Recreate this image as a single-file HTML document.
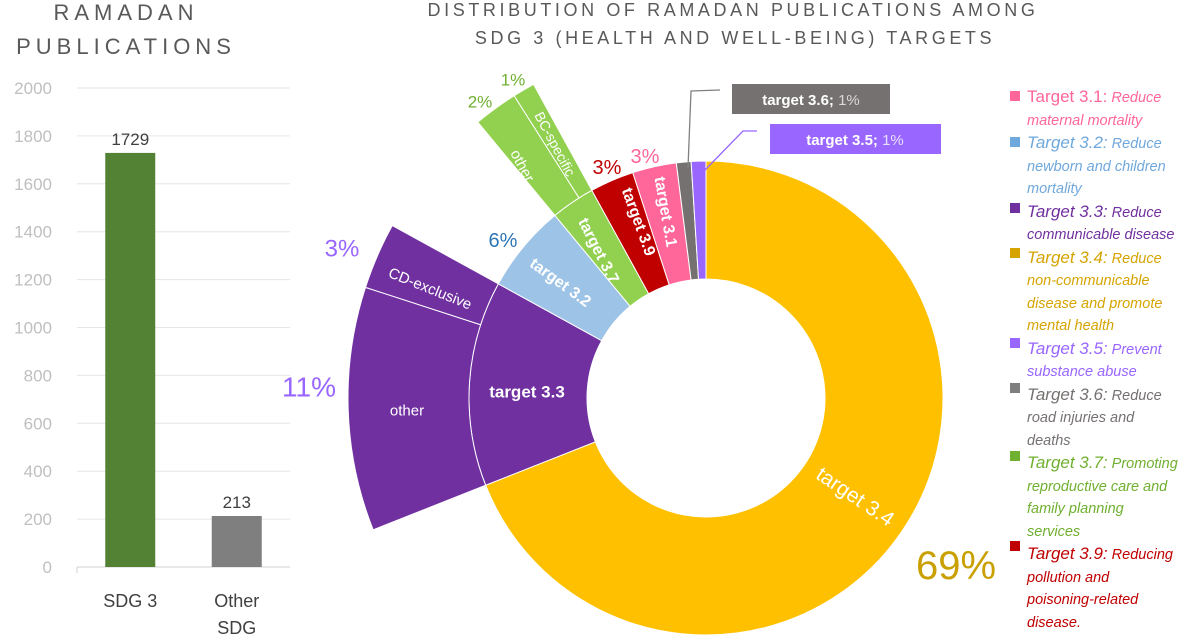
<!DOCTYPE html>
<html><head><meta charset="utf-8">
<style>
html,body{margin:0;padding:0;background:#fff;}
body{width:1200px;height:637px;overflow:hidden;position:relative;font-family:"Liberation Sans",sans-serif;}
svg{position:absolute;left:0;top:0;}
.lg{position:absolute;left:1027px;top:86px;font-style:italic;font-size:14.5px;line-height:22.5px;}
.lg div{white-space:nowrap;}
.lg b{font-weight:normal;font-size:17px;}
.sq{position:absolute;width:10px;height:10px;left:1010px;}
</style></head>
<body>
<svg width="1200" height="637">
<g id="titles" font-family="Liberation Sans, sans-serif" fill="#595959" text-anchor="middle">
<text x="126" y="20" font-size="22" letter-spacing="5">RAMADAN</text>
<text x="126" y="54" font-size="22" letter-spacing="5">PUBLICATIONS</text>
<text x="733" y="16" font-size="18" letter-spacing="3.6">DISTRIBUTION OF RAMADAN PUBLICATIONS AMONG</text>
<text x="735" y="44" font-size="18" letter-spacing="3.6">SDG 3 (HEALTH AND WELL-BEING) TARGETS</text>
</g>
<g id="bar"></g>
<g id="donut"></g>
<g id="dlabels" font-family="Liberation Sans, sans-serif"></g>
</svg>

<div class="sq" style="top:91px;background:#ff6699"></div>
<div class="sq" style="top:137px;background:#6fa8dc"></div>
<div class="sq" style="top:203px;background:#7030a0"></div>
<div class="sq" style="top:248px;background:#d6a400"></div>
<div class="sq" style="top:338px;background:#9966ff"></div>
<div class="sq" style="top:383px;background:#7f7f7f"></div>
<div class="sq" style="top:451px;background:#70b030"></div>
<div class="sq" style="top:541px;background:#c00000"></div>
<div class="lg">
<div style="color:#ff6699"><div><b style="font-style:normal">Target 3.1:</b> Reduce</div><div>maternal mortality</div></div>
<div style="color:#6fa8dc"><div><b>Target 3.2:</b> Reduce</div><div>newborn and children</div><div>mortality</div></div>
<div style="color:#7030a0"><div><b>Target 3.3:</b> Reduce</div><div>communicable disease</div></div>
<div style="color:#d6a400"><div><b>Target 3.4:</b> Reduce</div><div>non-communicable</div><div>disease and promote</div><div>mental health</div></div>
<div style="color:#9966ff"><div><b>Target 3.5:</b> Prevent</div><div>substance abuse</div></div>
<div style="color:#767171"><div><b>Target 3.6:</b> Reduce</div><div>road injuries and</div><div>deaths</div></div>
<div style="color:#70b030"><div><b>Target 3.7:</b> Promoting</div><div>reproductive care and</div><div>family planning</div><div>services</div></div>
<div style="color:#c00000"><div><b>Target 3.9:</b> Reducing</div><div>pollution and</div><div>poisoning-related</div><div>disease.</div></div>
</div>

<script>
const NS="http://www.w3.org/2000/svg";
// Bar chart data
const barCategories=["SDG 3","Other SDG"];
const barValues=[1729,213];
const barTicks=[0,200,400,600,800,1000,1200,1400,1600,1800,2000];
// Donut data (percent of total, clockwise from top)
const ringTargets=["3.4","3.3","3.2","3.7","3.9","3.1","3.6","3.5"];
const ringValues=[69,14,6,3,3,3,1,1];
const outerParts=["3.3 other","3.3 CD-exclusive","3.7 other","3.7 BC-specific"];
const outerValues=[11,3,2,1];

function mk(tag,attrs,parent){const e=document.createElementNS(NS,tag);for(const k in attrs)e.setAttribute(k,attrs[k]);parent.appendChild(e);return e;}

// ---- bar chart
const bar=document.getElementById('bar');
const y=v=>567-v*479/2000;
const x0=77,x1=290,band=(x1-x0)/barCategories.length;
barTicks.forEach(t=>{
  const l=mk('line',{x1:x0,x2:x1,y1:y(t),y2:y(t),stroke:t===0?'#d0d0d0':'#e6e6e6','stroke-width':1},bar);
  
  
  const tx=mk('text',{x:52,y:y(t)+6,'text-anchor':'end','font-size':17,fill:'#bfbfbf'},bar);
  tx.textContent=t;
  
  
});
const barColors=['#548235','#7f7f7f'];
barCategories.forEach((c,i)=>{
  const cx=x0+band*(i+0.5),w=50;
  const r=mk('rect',{x:cx-w/2,y:y(barValues[i]),width:w,height:y(0)-y(barValues[i]),fill:barColors[i]},bar);
  
  
  const v=mk('text',{x:cx,y:y(barValues[i])-8,'text-anchor':'middle','font-size':17,fill:'#404040'},bar);
  v.textContent=barValues[i];
  
  
  const parts=c==='SDG 3'?['SDG 3']:['Other','SDG'];
  parts.forEach((p,j)=>{
    const t=mk('text',{x:cx,y:607+j*27,'text-anchor':'middle','font-size':18,fill:'#404040'},bar);
    t.textContent=p;
    
    
  });
});
const ax=mk('line',{x1:x0,x2:x0,y1:567,y2:573,stroke:'#d0d0d0'},bar);



// ---- donut
const CX=706,CY=398,R0=119,R1=237,R2=358;
const don=document.getElementById('donut');
function pt(a,r){const t=a*Math.PI/180;return [CX+r*Math.sin(t),CY-r*Math.cos(t)];}
function arc(a0,a1,ri,ro){
  const big=(a1-a0)>180?1:0;
  const p0=pt(a0,ro),p1=pt(a1,ro),p2=pt(a1,ri),p3=pt(a0,ri);
  return `M${p0}A${ro},${ro} 0 ${big} 1 ${p1}L${p2}A${ri},${ri} 0 ${big} 0 ${p3}Z`;
}
const ringColors={"3.4":"#ffc000","3.3":"#7030a0","3.2":"#9dc3e6","3.7":"#92d050","3.9":"#c00000","3.1":"#ff6699","3.6":"#767171","3.5":"#9966ff"};
const tot=ringValues.reduce((a,b)=>a+b,0);
let acc=0;const ang={};
ringTargets.forEach((t,i)=>{
  const a0=acc/tot*360;acc+=ringValues[i];const a1=acc/tot*360;
  ang[t]=[a0,a1];
  const p=mk('path',{d:arc(a0,a1,R0,R1),fill:ringColors[t],stroke:'#fff','stroke-width':1},don);
  
  
});
// outer ring parts
let o33=ang["3.3"][0],o37=ang["3.7"][0];
outerParts.forEach((n,i)=>{
  const is33=n.startsWith('3.3');
  const a0=is33?o33:o37;const a1=a0+outerValues[i]/tot*360;
  if(is33)o33=a1;else o37=a1;
  const p=mk('path',{d:arc(a0,a1,R1,R2),fill:ringColors[is33?'3.3':'3.7'],stroke:'#fff','stroke-width':1},don);
  
  
});

// labels
const L=document.getElementById('dlabels');
function lab(txt,x,yy,rot,size,fill,weight,name){
  const t=mk('text',{x:x,y:yy,'font-size':size,fill:fill,'font-weight':weight||'normal','text-anchor':'middle','dominant-baseline':'central',transform:`rotate(${rot} ${x} ${yy})`},L);
  t.textContent=txt;
  
  
}
lab('target 3.4',855,497,34,21,'#fff','normal','label-target-3-4');
lab('target 3.3',527,392,0,17,'#fff','bold','label-target-3-3');
lab('other',407,411,0,15,'#fff','normal','label-3-3-other');
lab('CD-exclusive',430,289,22,15,'#fff','normal','label-cd-exclusive');
lab('target 3.2',560,283,36,16,'#fff','bold','label-target-3-2');
lab('target 3.7',598,251,63,16,'#fff','bold','label-target-3-7');
lab('target 3.9',638,222,70,16,'#fff','bold','label-target-3-9');
lab('target 3.1',665,212,80,16,'#fff','bold','label-target-3-1');
lab('other',522,166,62,15,'#fff','normal','label-3-7-other');
lab('BC-specific',555,144,62,14,'#fff','normal','label-bc-specific');
lab('3%',342,249,0,24,'#9966ff','normal','pct-cd-exclusive');
lab('11%',309,387,0,28,'#9966ff','normal','pct-3-3-other');
lab('6%',503,241,0,20,'#2e75b6','normal','pct-3-2');
lab('2%',480,102,0,17,'#70b030','normal','pct-3-7-other');
lab('1%',513,80,0,17,'#70b030','normal','pct-bc-specific');
lab('3%',607,168,0,20,'#c00000','normal','pct-3-9');
lab('3%',645,157,0,20,'#ff6699','normal','pct-3-1');
lab('69%',956,566,0,40,'#c9a000','normal','pct-3-4');
// callouts
const l36=mk('polyline',{points:'688,168 691,91 720,90',fill:'none',stroke:'#808080','stroke-width':1.3},L);


const b36=mk('rect',{x:732,y:84,width:158,height:30,fill:'#767171'},L);


const t36=mk('text',{x:811,y:105,'text-anchor':'middle','font-size':15,fill:'#fff'},L);
t36.innerHTML='<tspan font-weight="bold">target 3.6;</tspan><tspan fill="#d9d9d9"> 1%</tspan>';


const l35=mk('polyline',{points:'705,170 743,131 757,131',fill:'none',stroke:'#9966ff','stroke-width':1.3},L);


const b35=mk('rect',{x:770,y:124,width:171,height:30,fill:'#9966ff'},L);


const t35=mk('text',{x:855,y:145,'text-anchor':'middle','font-size':15,fill:'#fff'},L);
t35.innerHTML='<tspan font-weight="bold">target 3.5;</tspan><tspan fill="#e8e0ff"> 1%</tspan>';


</script>
</body></html>
